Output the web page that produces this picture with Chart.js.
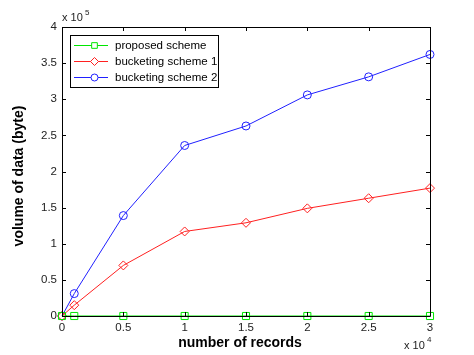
<!DOCTYPE html>
<html>
<head>
<meta charset="utf-8">
<script src="https://cdn.jsdelivr.net/npm/chart.js@4"></script>
<style>
  html, body { margin: 0; padding: 0; background: #fff; }
  canvas { display: block; }
</style>
</head>
<body>
<canvas id="c" width="474" height="355"></canvas>
<script>
// ---- data ----
const recordCounts = [0, 1000, 5000, 10000, 15000, 20000, 25000, 30000];
const proposedScheme = [0, 0, 0, 0, 0, 0, 0, 0];
const bucketingScheme1 = [0, 15000, 70000, 117000, 129000, 149000, 163000, 177000];
const bucketingScheme2 = [0, 31000, 139000, 236000, 263000, 306000, 331000, 362000];
const seriesNames = ['proposed scheme', 'bucketing scheme 1', 'bucketing scheme 2'];
const xTickValues = [0, 5000, 10000, 15000, 20000, 25000, 30000];
const yTickValues = [0, 50000, 100000, 150000, 200000, 250000, 300000, 350000, 400000];
const xTitle = 'number of records';
const yTitle = 'volume of data (byte)';

const seriesColors = ['#00e600', '#ff2020', '#2020ff'];
const seriesStyles = ['rect', 'rectRot', 'circle'];
const seriesRadius = [5, 4.5, 4];

function toPoints(ys) { return recordCounts.map((x, i) => ({ x: x, y: ys[i] })); }
const seriesData = [proposedScheme, bucketingScheme1, bucketingScheme2];

const datasets = seriesData.map((d, i) => ({
  label: seriesNames[i],
  data: toPoints(d),
  borderColor: seriesColors[i],
  backgroundColor: 'rgba(0,0,0,0)',
  pointBackgroundColor: 'rgba(0,0,0,0)',
  pointBorderColor: seriesColors[i],
  pointStyle: seriesStyles[i],
  pointRadius: seriesRadius[i],
  pointBorderWidth: 1,
  borderWidth: 1,
  tension: 0,
  clip: false
}));

const FONT = 'Arial, "Liberation Sans", Helvetica, sans-serif';

const matlabPlugin = {
  id: 'matlab',
  afterDatasetsDraw(chart) {
    const ctx = chart.ctx;
    const a = chart.chartArea;
    const xs = chart.scales.x, ys = chart.scales.y;
    ctx.save();
    // box
    ctx.strokeStyle = '#000';
    ctx.lineWidth = 1;
    ctx.beginPath();
    ctx.rect(Math.round(a.left) + 0.5, Math.round(a.top) + 0.5, Math.round(a.right - a.left), Math.round(a.bottom - a.top));
    ctx.stroke();
    // inward ticks
    const tl = 4;
    ctx.beginPath();
    xTickValues.forEach(v => {
      const px = Math.round(xs.getPixelForValue(v)) + 0.5;
      ctx.moveTo(px, a.bottom); ctx.lineTo(px, a.bottom - tl);
      ctx.moveTo(px, a.top); ctx.lineTo(px, a.top + tl);
    });
    yTickValues.forEach(v => {
      const py = Math.round(ys.getPixelForValue(v)) + 0.5;
      ctx.moveTo(a.left, py); ctx.lineTo(a.left + tl, py);
      ctx.moveTo(a.right, py); ctx.lineTo(a.right - tl, py);
    });
    ctx.stroke();

    // legend
    const lx = 70, ly = 35, lw = 148, lh = 52;
    ctx.fillStyle = '#fff';
    ctx.fillRect(lx, ly, lw, lh);
    ctx.strokeStyle = '#000';
    ctx.strokeRect(lx + 0.5, ly + 0.5, lw, lh);
    const rows = [45, 61, 77];
    ctx.font = '11.5px ' + FONT;
    ctx.textBaseline = 'middle';
    ctx.textAlign = 'left';
    const legendRadius = [4, 4, 3.5];
    seriesNames.forEach((name, i) => {
      const y = rows[i] + 0.5;
      ctx.strokeStyle = seriesColors[i];
      ctx.lineWidth = 1;
      ctx.beginPath();
      ctx.moveTo(74, y); ctx.lineTo(108, y);
      ctx.stroke();
      ctx.fillStyle = '#fff';
      Chart.helpers.drawPoint(ctx, {
        pointStyle: seriesStyles[i], rotation: 0, radius: legendRadius[i], borderWidth: 1
      }, 94.5, y);
      ctx.fillStyle = '#000';
      ctx.fillText(name, 115, rows[i] + 1);
    });

    // axis titles
    ctx.fillStyle = '#000';
    ctx.font = 'bold 14px ' + FONT;
    ctx.textAlign = 'center';
    ctx.textBaseline = 'middle';
    ctx.fillText(xTitle, 240, 343);
    ctx.save();
    ctx.translate(19, 176);
    ctx.rotate(-Math.PI / 2);
    ctx.fillText(yTitle, 0, 0);
    ctx.restore();

    // exponent labels
    ctx.fillStyle = '#222';
    ctx.textAlign = 'left';
    ctx.textBaseline = 'alphabetic';
    ctx.font = '11px ' + FONT;
    ctx.fillText('x 10', 62, 21);
    ctx.font = '8px ' + FONT;
    ctx.fillText('5', 85, 15);
    ctx.font = '11px ' + FONT;
    ctx.fillText('x 10', 404, 349);
    ctx.font = '8px ' + FONT;
    ctx.fillText('4', 427, 342);
    ctx.restore();
  }
};

new Chart(document.getElementById('c'), {
  type: 'line',
  data: { datasets: datasets },
  options: {
    responsive: false,
    animation: false,
    devicePixelRatio: 1,
    layout: { padding: { top: 27, right: 44, left: 0, bottom: 0 } },
    plugins: { legend: { display: false }, tooltip: { enabled: false } },
    scales: {
      x: {
        type: 'linear',
        min: 0, max: 30000,
        afterFit(s) { s.height = 39; },
        afterBuildTicks(s) { s.ticks = xTickValues.map(v => ({ value: v })); },
        grid: { display: false, drawTicks: false },
        border: { display: false },
        ticks: {
          padding: 5,
          color: '#222',
          font: { family: FONT, size: 11.5 },
          maxRotation: 0,
          callback: v => String(v / 1e4)
        }
      },
      y: {
        type: 'linear',
        min: 0, max: 400000,
        afterFit(s) { s.width = 62; },
        afterBuildTicks(s) { s.ticks = yTickValues.map(v => ({ value: v })); },
        grid: { display: false, drawTicks: false },
        border: { display: false },
        ticks: {
          padding: 5,
          color: '#222',
          font: { family: FONT, size: 11.5 },
          callback: v => String(v / 1e5)
        }
      }
    }
  },
  plugins: [matlabPlugin]
});
</script>
</body>
</html>
